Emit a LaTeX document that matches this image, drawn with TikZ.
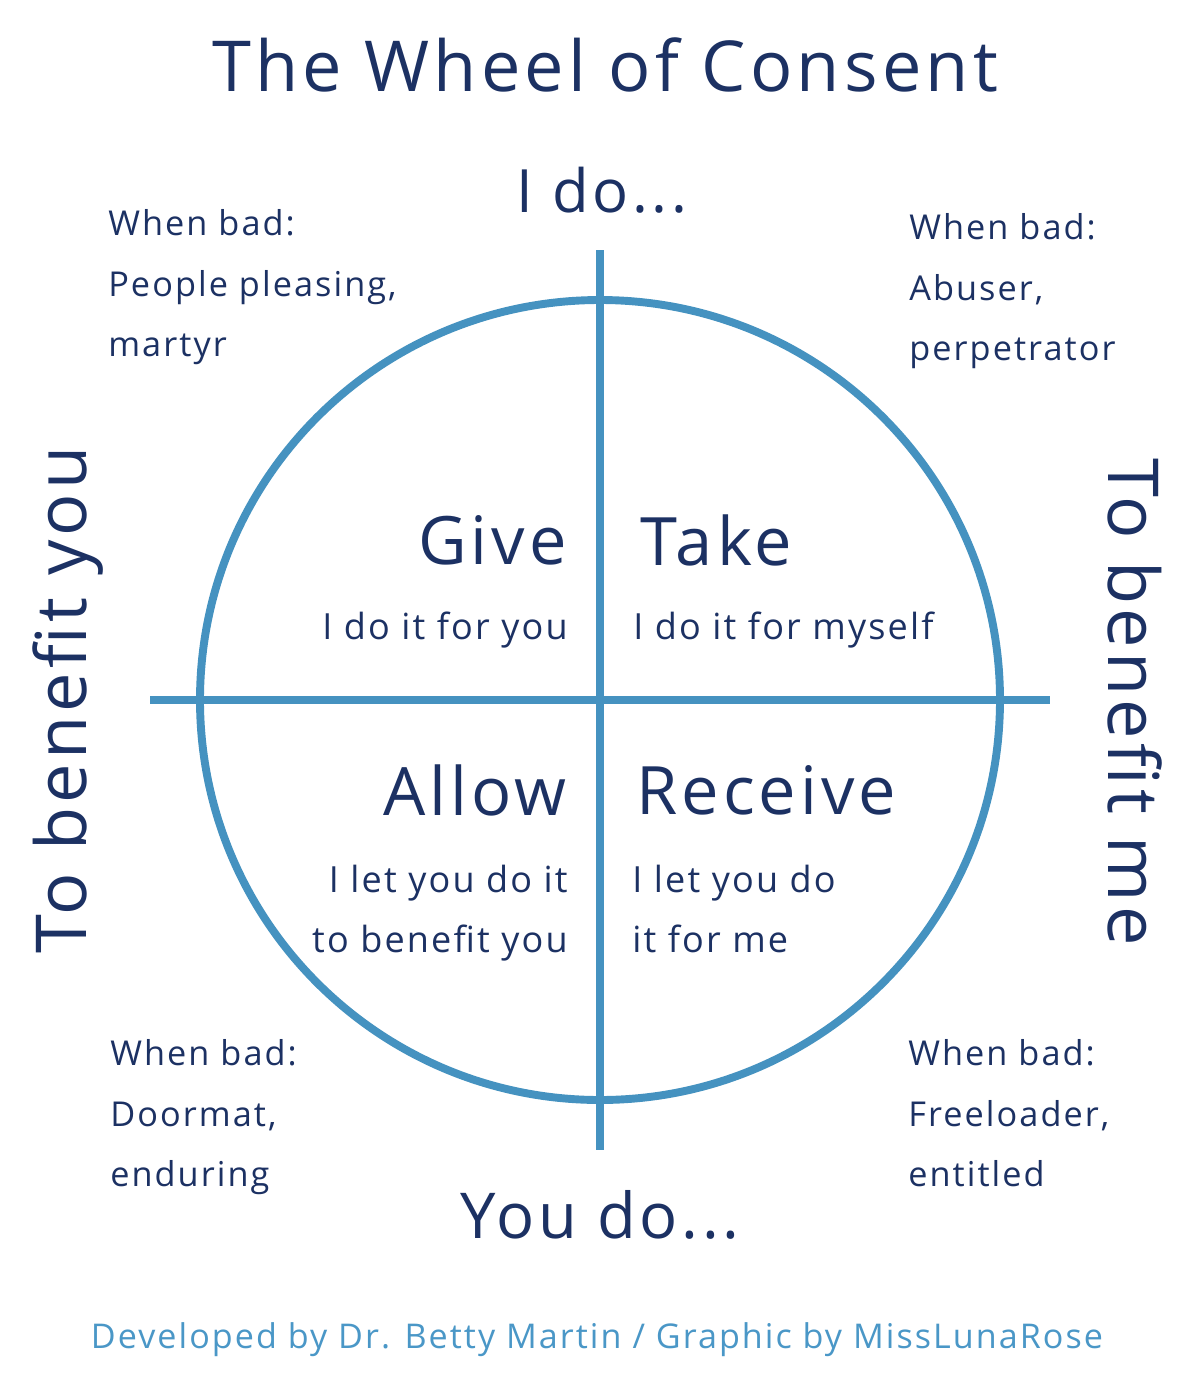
\documentclass[tikz,border=0pt]{standalone}
\usepackage{fontspec}
\setmainfont{Open Sans}[LetterSpace=6]
\definecolor{navy}{HTML}{1C3163}
\definecolor{wheel}{HTML}{4592C0}
\definecolor{foot}{HTML}{4A97C7}
\begin{document}
\begin{tikzpicture}[x=0.02cm,y=-0.02cm,
  txt/.style={text=navy,inner sep=0pt},
  big/.style={txt,font=\fontsize{38}{44}\selectfont},
  sub/.style={txt,font=\fontsize{20.5}{34}\selectfont},
  corner/.style={txt,font=\fontsize{19.5}{34.5}\selectfont,align=left,anchor=north west},
  axis/.style={txt,font=\fontsize{40}{46}\selectfont},
  wline/.style={draw=wheel,line width=4.5pt}]
\useasboundingbox[fill=white] (0,0) rectangle (1200,1400);
\node[txt,font=\fontsize{40}{46}\selectfont] (title) at (605,65) {The Wheel of Consent};
\node[txt,font=\fontsize{34}{40}\selectfont] (ido) at (602,190) {I do...};
\node[txt,font=\fontsize{36}{42}\selectfont] (youdo) at (600,1215) {You do...};
\node[axis,rotate=90] (benyou) at (68,700) {To benefit you};
\node[axis,rotate=-90] (benme) at (1135,702) {To benefit me};
\coordinate (c) at (600,700);
\coordinate (top) at (600,250);
\coordinate (bot) at (600,1150);
\coordinate (lft) at (150,700);
\coordinate (rgt) at (1050,700);
\draw[wline] (c) circle[radius=400];
\draw[wline] (top) -- (bot);
\draw[wline] (lft) -- (rgt);
\node[big,anchor=east] (give) at (567,540) {Give};
\node[big,anchor=west] (take) at (640,540) {Take};
\node[big,anchor=east] (allow) at (567,790) {Allow};
\node[big,anchor=west] (receive) at (636,790) {Receive};
\node[sub,anchor=east] (givesub) at (568,630) {I do it for you};
\node[sub,anchor=west] (takesub) at (633,630) {I do it for myself};
\node[sub,anchor=north east,align=right] (allowsub) at (568,865) {I let you do it\\to benefit you};
\node[sub,anchor=north west,align=left] (recsub) at (632,865) {I let you do\\it for me};
\node[corner] (tl) at (108,209) {When bad:\\People pleasing,\\martyr};
\node[corner] (tr) at (909,213) {When bad:\\Abuser,\\perpetrator};
\node[corner] (bl) at (110,1039) {When bad:\\Doormat,\\enduring};
\node[corner] (br) at (908,1039) {When bad:\\Freeloader,\\entitled};
\node[txt,text=foot,font=\fontsize{19.4}{24}\selectfont] (footer) at (597,1340) {Developed by Dr. Betty Martin / Graphic by MissLunaRose};
\end{tikzpicture}
\end{document}
